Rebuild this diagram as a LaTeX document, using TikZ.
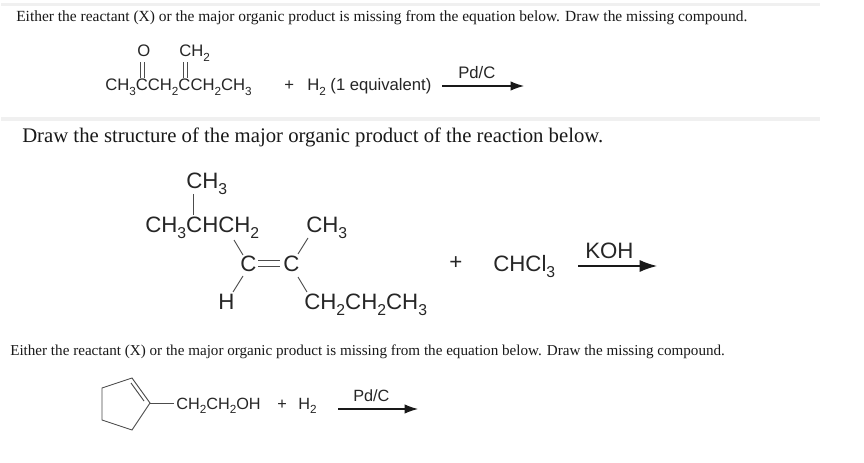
\documentclass[tikz,border=0pt]{standalone}
\usepackage{fontspec}
\setmainfont{Liberation Serif}
\newfontfamily\chemfont{Liberation Sans}
\usetikzlibrary{arrows.meta}
\tikzset{
  x=0.75pt,y=-0.75pt,
  headone/.style={inner sep=0pt,anchor=base west,font=\fontsize{11.6pt}{13pt}\selectfont,text=black!90},
  headthree/.style={inner sep=0pt,anchor=base west,font=\fontsize{11.34pt}{13pt}\selectfont,text=black!90},
  heada/.style={inner sep=0pt,anchor=base west,font=\fontsize{15.55pt}{17pt}\selectfont,text=black!90},
  chem/.style={inner sep=0pt,anchor=base west,font=\chemfont\fontsize{12.5pt}{14pt}\selectfont,text=black!85},
  chemc/.style={inner sep=0pt,anchor=base west,font=\chemfont\fontsize{12.2pt}{14pt}\selectfont,text=black!85},
  chemb/.style={inner sep=0pt,anchor=base west,font=\chemfont\fontsize{16.7pt}{18pt}\selectfont,text=black!85},
  bond/.style={draw=black!70,line width=0.7pt},
  rxn/.style={draw=black!90,line width=0.8pt,-{Latex[length=10pt,width=7pt]}},
  rxnb/.style={draw=black!90,line width=0.9pt,-{Latex[length=13pt,width=9pt]}},
  band/.style={fill=black!6,draw=none},
}
\newcommand{\sbs}[1]{\raisebox{-0.25em}{\fontsize{8.8pt}{9pt}\selectfont #1}}
\newcommand{\sbb}[1]{\raisebox{-0.25em}{\fontsize{11.8pt}{12pt}\selectfont #1}}
\begin{document}
\begin{tikzpicture}
\useasboundingbox (0,0) rectangle (864,463);
\fill[white] (0,0) rectangle (864,463);
\fill[band] (1,3) rectangle (820,6);
\fill[band] (1,117) rectangle (820,121);
\node[headone] (t1) at (16,22) {Either the reactant (X) or the major organic product is missing from the equation below. Draw the missing compound.};
\node[heada] (t2) at (22,143) {Draw the structure of the major organic product of the reaction below.};
\node[headthree] (t3) at (10,355) {Either the reactant (X) or the major organic product is missing from the equation below. Draw the missing compound.};

% first
\node[chem] (o1) at (137,57) {O};
\node[chem] (ch2a) at (179,57) {CH\sbs{2}};
\node[chem] (m1) at (105,91) {CH\sbs{3}CCH\sbs{2}CCH\sbs{2}CH\sbs{3}};
\node[chem] (pl1) at (284,91) {+};
\node[chem] (h2a) at (307,91) {H\sbs{2} (1 equivalent)};
\node[chem] (pd1) at (458,79) {Pd/C};
\coordinate (c1a) at (142.5,78); \coordinate (c1b) at (142.5,62);
\coordinate (c2a) at (185.5,78); \coordinate (c2b) at (185.5,62);
\draw[bond] ([xshift=-1.7pt]c1a) -- ([xshift=-1.7pt]c1b);
\draw[bond] ([xshift=1.7pt]c1a) -- ([xshift=1.7pt]c1b);
\draw[bond] ([xshift=-1.7pt]c2a) -- ([xshift=-1.7pt]c2b);
\draw[bond] ([xshift=1.7pt]c2a) -- ([xshift=1.7pt]c2b);
\coordinate (a1s) at (442,86); \coordinate (a1e) at (524,86);
\draw[rxn] (a1s) -- (a1e);

% second
\node[chemb] (ch3t) at (186,189) {CH\sbb{3}};
\node[chemb] (ipr) at (145,233) {CH\sbb{3}CHCH\sbb{2}};
\node[chemb] (ch3r) at (306,233) {CH\sbb{3}};
\node[chemb] (cl) at (240,272) {C};
\node[chemb] (cr) at (283,272) {C};
\node[chemb] (hh) at (218,310) {H};
\node[chemb] (pr) at (304,310) {CH\sbb{2}CH\sbb{2}CH\sbb{3}};
\node[chemb] (pl2) at (449,270) {+};
\node[chemb] (chcl) at (493,272) {CHCl\sbb{3}};
\node[chemb] (koh) at (585,259) {KOH};
\coordinate (b1) at (193,194); \coordinate (b2) at (193,215);
\draw[bond] (b1) -- (b2);
\coordinate (b3) at (234,240); \coordinate (b4) at (243,255);
\draw[bond] (b3) -- (b4);
\coordinate (b5) at (308,238); \coordinate (b6) at (298,254);
\draw[bond] (b5) -- (b6);
\coordinate (b7) at (243,276); \coordinate (b8) at (233,292);
\draw[bond] (b7) -- (b8);
\coordinate (b9) at (298,277); \coordinate (b10) at (307,292);
\draw[bond] (b9) -- (b10);
\coordinate (d1) at (258,260); \coordinate (d2) at (280,260);
\coordinate (d3) at (258,266); \coordinate (d4) at (280,266);
\draw[bond] (d1) -- (d2);
\draw[bond] (d3) -- (d4);
\coordinate (a2s) at (578,266); \coordinate (a2e) at (657,266);
\draw[rxnb] (a2s) -- (a2e);

% third
\coordinate (r1) at (150,403); \coordinate (r2) at (132,378); \coordinate (r3) at (102,388);
\coordinate (r4) at (102,420); \coordinate (r5) at (132,430);
\draw[bond] (r1) -- (r2) -- (r3) -- (r4) -- (r5) -- cycle;
\coordinate (r1i) at (144,401); \coordinate (r2i) at (131,383);
\draw[bond] (r1i) -- (r2i);
\node[chemc] (et) at (176,409) {CH\sbs{2}CH\sbs{2}OH};
\coordinate (e1) at (174,403);
\draw[bond] (r1) -- (e1);
\node[chemc] (pl3) at (277,409) {+};
\node[chemc] (h2b) at (298,409) {H\sbs{2}};
\node[chemc] (pd2) at (353,402) {Pd/C};
\coordinate (a3s) at (338,409); \coordinate (a3e) at (418,409);
\draw[rxn] (a3s) -- (a3e);
\end{tikzpicture}
\end{document}
